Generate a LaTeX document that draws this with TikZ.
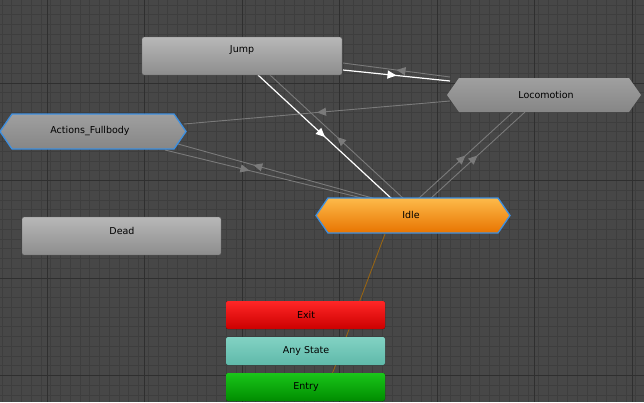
\documentclass[tikz,border=0pt]{standalone}
\usepackage{fontspec}
\setmainfont{DejaVu Sans}
\usetikzlibrary{arrows.meta,decorations.markings}
\pgfdeclarelayer{grid}\pgfdeclarelayer{edges}
\pgfsetlayers{grid,edges,main}
\definecolor{bgc}{HTML}{474747}
\definecolor{minorc}{HTML}{3E3E3E}
\definecolor{majorc}{HTML}{2F2F2F}
\definecolor{trgray}{HTML}{7A7A7A}
\definecolor{glow}{HTML}{3D8FE0}
\definecolor{idletop}{HTML}{FDBA4A}
\definecolor{idlebot}{HTML}{E87400}
\tikzset{
 lbl/.style={font=\fontsize{9.5}{11}\selectfont, text=black, inner sep=0pt},
 tr/.style={draw=trgray, line width=0.9pt, postaction={decorate}, decoration={markings, mark=at position #1 with {\arrow{Triangle[width=8pt,length=9pt]}}}},
 tr/.default=0.5,
 trw/.style={tr=#1, draw=white, line width=1.2pt},
 trw/.default=0.5,
 statebox/.style={rounded corners=2pt, top color=#1!80!white, bottom color=#1!85!black},
 orangeline/.style={draw={rgb,255:red,150;green,100;blue,20}, line width=0.9pt},
}
\newcommand{\hexshape}[6]{% x1 y1 x2 y2 topcolor bottomcolor
 \path[top color=#5, bottom color=#6, draw=glow, line width=1.3pt]
 (#1+12,#2) -- (#3-12,#2) -- (#3,{(#2+#4)/2}) -- (#3-12,#4) -- (#1+12,#4) -- (#1,{(#2+#4)/2}) -- cycle;}
\begin{document}
\begin{tikzpicture}[x=1pt,y=-1pt]
\useasboundingbox (0,0) rectangle (644,402);
\begin{pgfonlayer}{grid}
\clip (0,0) rectangle (644,402);
\fill[bgc] (0,0) rectangle (644,402);
\foreach \i in {0,...,65} {\draw[minorc, line width=0.8pt] ({\i*9.75+2},0) -- ({\i*9.75+2},402);}
\foreach \i in {0,...,41} {\draw[minorc, line width=0.8pt] (0,{\i*9.75+5}) -- (644,{\i*9.75+5});}
\foreach \i in {0,...,6} {\draw[majorc, line width=1pt] ({\i*97.5+47},0) -- ({\i*97.5+47},402);}
\foreach \i in {1,...,4} {\draw[majorc, line width=1pt] (0,{\i*97.5-14.5}) -- (644,{\i*97.5-14.5});}
\end{pgfonlayer}
% states
\fill[statebox=gray!70!white, draw=black!60, line width=0.4pt] (142,37) rectangle (342,75);
\node[lbl] (jump) at (242,50) {Jump};
\path[top color=gray!75!white, bottom color=gray!95!white] (447+12,78) -- (641-12,78) -- (641,95) -- (641-12,112) -- (447+12,112) -- (447,95) -- cycle;
\node[lbl] (loco) at (546,95) {Locomotion};
\hexshape{0}{114}{186}{149}{gray!75!white}{gray!95!white}
\node[lbl] (act) at (90,131) {Actions\_Fullbody};
\hexshape{316}{198}{510}{233}{idletop}{idlebot}
\node[lbl] (idle) at (411,215) {Idle};
\fill[statebox=gray!70!white, draw=black!60, line width=0.4pt] (22,217) rectangle (221,255);
\node[lbl] (dead) at (122,231) {Dead};
\fill[rounded corners=2pt, top color=red!85!white, bottom color=red!80!black] (226,301) rectangle (385,329);
\node[lbl] (exit) at (306,315) {Exit};
\fill[rounded corners=2pt, top color={rgb,255:red,130;green,210;blue,195}, bottom color={rgb,255:red,95;green,185;blue,170}] (226,337) rectangle (385,365);
\node[lbl] (any) at (306,351) {Any State};
\fill[rounded corners=2pt, top color=green!75!black!90!white, bottom color=green!55!black] (226,373) rectangle (385,401);
\node[lbl] (entry) at (306,387) {Entry};
% edge endpoints
\coordinate (jR1) at (343,63); \coordinate (jR2) at (343,70);
\coordinate (lL1) at (450,77); \coordinate (lL2) at (450,81);
\coordinate (jB1) at (258,75); \coordinate (jB2) at (270,75);
\coordinate (iT1) at (392,199); \coordinate (iT2) at (404,199);
\coordinate (aR) at (184,124); \coordinate (lL3) at (450,101);
\coordinate (aB1) at (178,144); \coordinate (aB2) at (165,150);
\coordinate (iT3) at (376,199); \coordinate (iT4) at (366,199);
\coordinate (iT5) at (418,199); \coordinate (iT6) at (430,199);
\coordinate (lB1) at (513,112); \coordinate (lB2) at (525,112);
\coordinate (iB) at (385,234); \coordinate (eT) at (322,401);
\begin{pgfonlayer}{edges}
\draw[tr] (lL1) -- (jR1);
\draw[trw] (jR2) -- (lL2);
\draw[trw] (jB1) -- (iT1);
\draw[tr] (iT2) -- (jB2);
\draw[tr] (lL3) -- (aR);
\draw[tr=0.62] (iT3) -- (aB1);
\draw[tr=0.42] (aB2) -- (iT4);
\draw[tr] (iT5) -- (lB1);
\draw[tr] (iT6) -- (lB2);
\draw[orangeline] (iB) -- (eT);
\end{pgfonlayer}
\end{tikzpicture}
\end{document}
